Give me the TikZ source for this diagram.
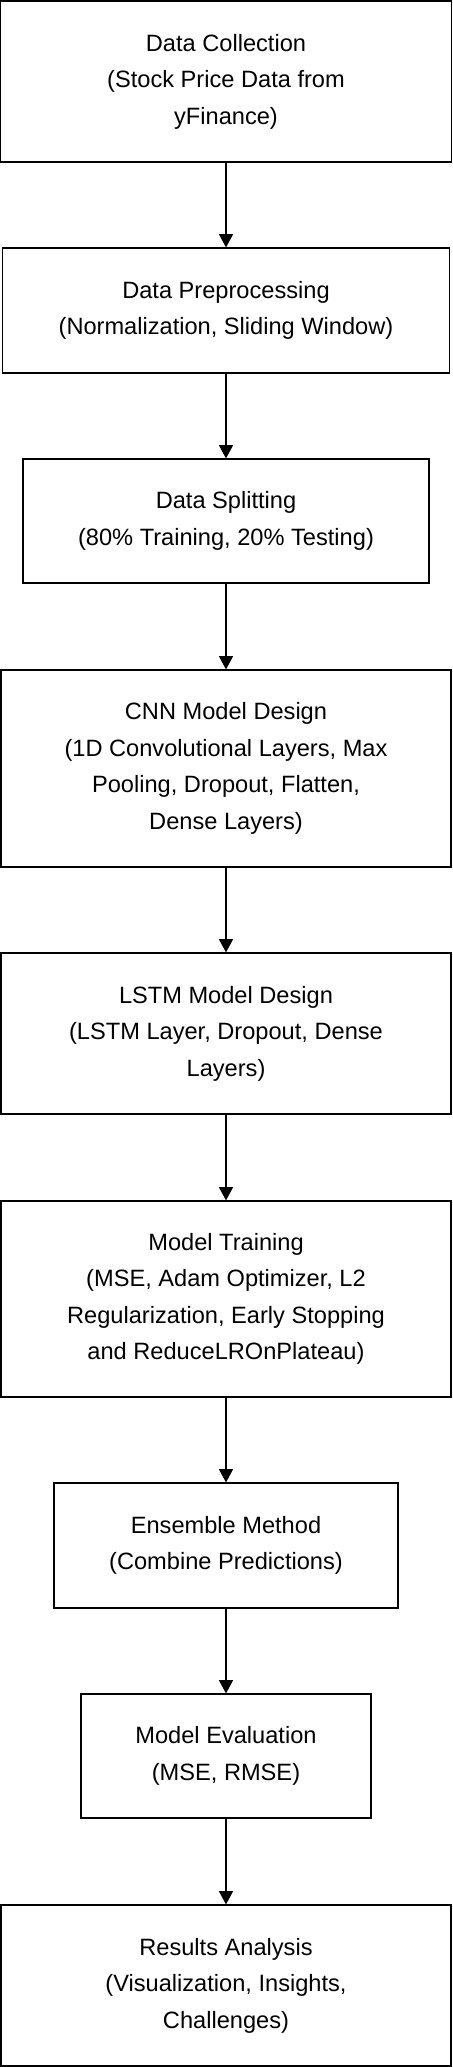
\documentclass[tikz,border=0pt]{standalone}
\usepackage{fontspec}
\setmainfont{Liberation Sans}
\usetikzlibrary{arrows.meta}
\tikzset{
	stage/.style={draw, line width=0.85pt, align=center, inner sep=0pt},
	flow/.style={draw, line width=0.85pt, -{Triangle[length=0.33cm, width=0.35cm]}}
}

\begin{document}
\begin{tikzpicture}[font=\fontsize{16.8}{26}\selectfont]
\useasboundingbox (0,0) rectangle (11.325,-51.675);
\node (collect) [stage, minimum width=11.275cm, minimum height=4.025cm] at (5.65,-2.0375) {Data Collection\\(Stock Price Data from\\yFinance)};
\node (prep) [stage, minimum width=11.175cm, minimum height=3.125cm] at (5.65,-7.7625) {Data Preprocessing\\(Normalization, Sliding Window)};
\node (split) [stage, minimum width=10.15cm, minimum height=3.1cm] at (5.65,-13.025) {Data Splitting\\(80\% Training, 20\% Testing)};
\node (cnn) [stage, minimum width=11.25cm, minimum height=4.925cm] at (5.65,-19.2125) {CNN Model Design\\(1D Convolutional Layers, Max\\Pooling, Dropout, Flatten,\\Dense Layers)};
\node (lstm) [stage, minimum width=11.25cm, minimum height=4.025cm] at (5.65,-25.8375) {LSTM Model Design\\(LSTM Layer, Dropout, Dense\\Layers)};
\node (train) [stage, minimum width=11.25cm, minimum height=4.9cm] at (5.65,-32.475) {Model Training\\(MSE, Adam Optimizer, L2\\Regularization, Early Stopping\\and ReduceLROnPlateau)};
\node (ensemble) [stage, minimum width=8.6cm, minimum height=3.125cm] at (5.65,-38.6375) {Ensemble Method\\(Combine Predictions)};
\node (eval) [stage, minimum width=7.25cm, minimum height=3.1cm] at (5.65,-43.9) {Model Evaluation\\(MSE, RMSE)};
\node (results) [stage, minimum width=11.25cm, minimum height=4.025cm] at (5.65,-49.6375) {Results Analysis\\(Visualization, Insights,\\Challenges)};
\draw[flow] (collect) -- (prep);
\draw[flow] (prep) -- (split);
\draw[flow] (split) -- (cnn);
\draw[flow] (cnn) -- (lstm);
\draw[flow] (lstm) -- (train);
\draw[flow] (train) -- (ensemble);
\draw[flow] (ensemble) -- (eval);
\draw[flow] (eval) -- (results);
\end{tikzpicture}
\end{document}
